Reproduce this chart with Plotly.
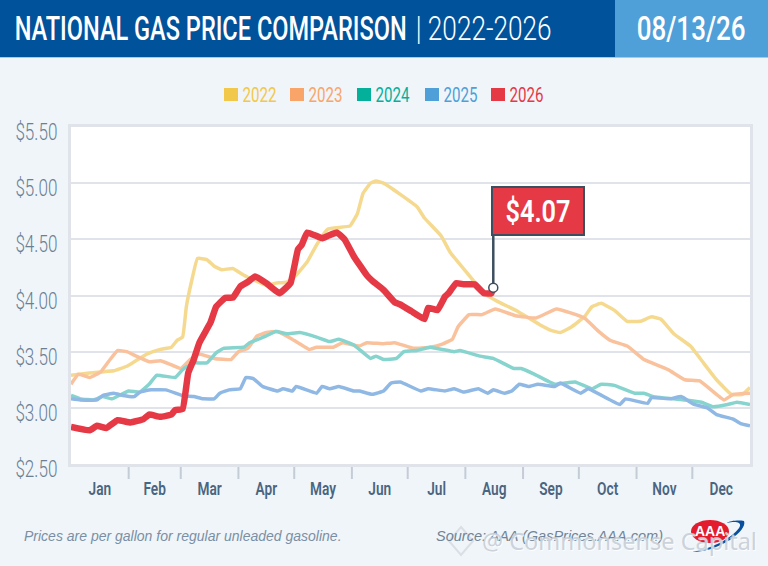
import plotly.graph_objects as go

# day of year / price, one pair of lists per year
days_2022 = [0, 10, 16, 23, 30, 34, 41, 48, 54, 57, 60, 62, 65, 68, 73, 77, 81, 87, 93, 98, 105, 110, 116, 121, 127, 132, 138, 150, 154, 157, 161, 164, 168, 177, 186, 190, 199, 204, 213, 222, 229, 240, 252, 258, 263, 269, 276, 280, 285, 292, 299, 306, 312, 317, 324, 333, 340, 347, 355, 361, 365]
vals_2022 = [3.29, 3.31, 3.32, 3.33, 3.37, 3.41, 3.48, 3.52, 3.54, 3.60, 3.63, 3.90, 4.14, 4.33, 4.32, 4.26, 4.23, 4.24, 4.18, 4.14, 4.09, 4.11, 4.12, 4.18, 4.30, 4.45, 4.59, 4.62, 4.73, 4.91, 5.00, 5.02, 5.00, 4.90, 4.79, 4.69, 4.53, 4.38, 4.20, 4.02, 3.95, 3.86, 3.74, 3.69, 3.67, 3.72, 3.81, 3.90, 3.93, 3.87, 3.77, 3.77, 3.81, 3.79, 3.66, 3.55, 3.40, 3.25, 3.12, 3.12, 3.18]

days_2023 = [0, 4, 10, 16, 21, 25, 30, 35, 42, 48, 53, 59, 64, 69, 77, 86, 90, 95, 100, 105, 111, 118, 128, 132, 141, 146, 155, 159, 168, 174, 184, 193, 200, 205, 208, 214, 221, 228, 239, 250, 261, 276, 283, 290, 299, 308, 321, 330, 338, 351, 356, 365]
vals_2023 = [3.21, 3.30, 3.27, 3.32, 3.43, 3.51, 3.50, 3.46, 3.41, 3.42, 3.39, 3.35, 3.43, 3.48, 3.44, 3.43, 3.50, 3.53, 3.64, 3.67, 3.68, 3.62, 3.52, 3.54, 3.54, 3.58, 3.55, 3.58, 3.57, 3.58, 3.53, 3.54, 3.57, 3.61, 3.72, 3.83, 3.83, 3.88, 3.82, 3.80, 3.88, 3.80, 3.69, 3.60, 3.55, 3.43, 3.34, 3.25, 3.24, 3.07, 3.12, 3.13]

days_2024 = [0, 5, 12, 17, 22, 31, 37, 42, 46, 56, 60, 66, 73, 78, 82, 93, 96, 105, 110, 116, 123, 132, 139, 144, 152, 161, 164, 168, 175, 179, 186, 193, 206, 209, 220, 227, 238, 242, 249, 260, 271, 280, 285, 292, 303, 308, 313, 330, 339, 345, 353, 358, 365]
vals_2024 = [3.11, 3.08, 3.07, 3.10, 3.08, 3.15, 3.14, 3.21, 3.29, 3.27, 3.34, 3.40, 3.40, 3.49, 3.53, 3.54, 3.58, 3.64, 3.68, 3.66, 3.67, 3.63, 3.59, 3.61, 3.56, 3.44, 3.46, 3.43, 3.44, 3.50, 3.51, 3.54, 3.50, 3.51, 3.46, 3.44, 3.35, 3.35, 3.30, 3.21, 3.23, 3.17, 3.21, 3.20, 3.13, 3.13, 3.10, 3.07, 3.05, 3.01, 3.03, 3.05, 3.03]

days_2025 = [0, 5, 14, 17, 23, 28, 34, 37, 43, 51, 60, 66, 71, 77, 80, 85, 91, 94, 98, 103, 111, 114, 119, 121, 132, 135, 139, 144, 152, 155, 162, 168, 172, 177, 188, 192, 201, 206, 211, 219, 224, 227, 233, 237, 241, 246, 251, 260, 263, 274, 278, 295, 298, 310, 312, 322, 328, 335, 342, 347, 356, 360, 365]
vals_2025 = [3.08, 3.07, 3.07, 3.11, 3.13, 3.11, 3.10, 3.14, 3.16, 3.16, 3.11, 3.10, 3.08, 3.08, 3.13, 3.16, 3.17, 3.27, 3.26, 3.19, 3.15, 3.17, 3.15, 3.19, 3.13, 3.19, 3.17, 3.19, 3.15, 3.15, 3.12, 3.15, 3.22, 3.23, 3.15, 3.17, 3.15, 3.17, 3.14, 3.17, 3.13, 3.16, 3.13, 3.15, 3.21, 3.19, 3.21, 3.19, 3.22, 3.13, 3.17, 3.03, 3.08, 3.04, 3.09, 3.08, 3.10, 3.03, 3.00, 2.94, 2.90, 2.86, 2.84]

days_2026 = [0, 10, 14, 19, 25, 32, 39, 42, 48, 54, 56, 60, 63, 66, 69, 75, 78, 83, 87, 91, 95, 99, 105, 112, 118, 122, 124, 127, 135, 138, 143, 147, 152, 159, 162, 168, 174, 177, 183, 190, 192, 197, 201, 203, 207, 211, 217, 222, 226, 227]
vals_2026 = [2.83, 2.80, 2.84, 2.82, 2.89, 2.87, 2.90, 2.94, 2.92, 2.94, 2.98, 2.99, 3.31, 3.43, 3.58, 3.76, 3.90, 3.98, 3.98, 4.08, 4.12, 4.17, 4.11, 4.02, 4.11, 4.41, 4.45, 4.56, 4.51, 4.53, 4.56, 4.50, 4.35, 4.18, 4.13, 4.05, 3.94, 3.92, 3.86, 3.79, 3.89, 3.87, 3.99, 4.02, 4.11, 4.10, 4.10, 4.02, 4.02, 4.07]

months = ["Jan", "Feb", "Mar", "Apr", "May", "Jun", "Jul", "Aug", "Sep", "Oct", "Nov", "Dec"]
month_edges = [0, 31, 59, 90, 120, 151, 181, 212, 243, 273, 304, 334, 365]
price_ticks = [2.5, 3.0, 3.5, 4.0, 4.5, 5.0, 5.5]
latest_price = 4.07

FONT = "Roboto"
W, H = 768, 566
# plot area in page pixels
LEFT, RIGHT, TOP, BOTTOM = 71, 750, 127, 464

legend_years = ["2022", "2023", "2024", "2025", "2026"]
legend_colors = ["#f2c84b", "#f9a56a", "#05b09a", "#4f9fd9", "#e63946"]
line_colors = ["#f5d98f", "#f9c29c", "#86d4cd", "#8fb8e4", "#e63946"]
legend_x = [224, 290, 357, 425, 491]

fig = go.Figure()

series = [(days_2022, vals_2022), (days_2023, vals_2023), (days_2024, vals_2024), (days_2025, vals_2025)]
for (d, v), name, col in zip(series, legend_years, line_colors):
    fig.add_trace(go.Scatter(x=d, y=v, name=name, mode="lines", line=dict(color=col, width=3.5, shape="spline", smoothing=0.3)))

# flag pole goes under the 2026 line
fig.add_trace(go.Scatter(x=[days_2026[-1], days_2026[-1]], y=[latest_price, 4.97], mode="lines",
                         line=dict(color="#3d4f5f", width=2.5)))
fig.add_trace(go.Scatter(x=days_2026, y=vals_2026, name="2026", mode="lines",
                         line=dict(color="#e63946", width=6.5, shape="spline", smoothing=0.3)))
fig.add_trace(go.Scatter(x=[days_2026[-1]], y=[latest_price], mode="markers",
                         marker=dict(size=9, color="white", line=dict(color="#3d4f5f", width=1.5))))


# paper coordinates are relative to the plot area, so convert from page pixels
def px(x):
    return (x - LEFT) / (RIGHT - LEFT)


def py(y):
    return (BOTTOM - y) / (BOTTOM - TOP)


shapes = [
    dict(type="rect", xref="paper", yref="paper", x0=px(0), x1=px(615), y0=py(57), y1=py(0), fillcolor="#00529b", line_width=0, layer="below"),
    dict(type="rect", xref="paper", yref="paper", x0=px(615), x1=px(W), y0=py(57), y1=py(0), fillcolor="#4f9fd9", line_width=0, layer="below"),
    dict(type="rect", xref="paper", yref="paper", x0=px(0), x1=px(W), y0=py(58), y1=py(57), fillcolor="#a9c8e6", line_width=0, layer="below"),
]
annotations = [
    dict(text="NATIONAL GAS PRICE COMPARISON", x=px(210), y=py(29),
         font=dict(family=FONT, size=33, weight=500, color="white")),
    dict(text="| 2022-2026", x=px(484), y=py(29),
         font=dict(family=FONT, size=33, weight=300, color="white")),
    dict(text="08/13/26", x=px(691), y=py(29), font=dict(family=FONT, size=33, weight=500, color="white")),
    dict(text="Prices are per gallon for regular unleaded gasoline.", x=px(22), y=py(536), xanchor="left",
         font=dict(family="Liberation Sans", size=14, style="italic", color="#7a8fa3")),
    dict(text="Source: AAA (GasPrices.AAA.com)", x=px(434), y=py(536), xanchor="left",
         font=dict(family="Liberation Sans", size=14.5, style="italic", color="#6f8496")),
    dict(text="<b>AAA</b>", x=px(710), y=py(531), font=dict(family="Liberation Sans", size=14, color="white")),
    dict(text="@ Commonsense Capital", x=px(480), y=py(541), xanchor="left",
         font=dict(family="Noto Sans", size=23.5, color="rgba(198,205,213,0.9)", shadow="1px 1px 1px white")),
]

for year, col, x in zip(legend_years, legend_colors, legend_x):
    shapes.append(dict(type="rect", xref="paper", yref="paper", x0=px(x), x1=px(x + 14), y0=py(101), y1=py(88),
                       fillcolor=col, line_width=0))
    annotations.append(dict(text=year, x=px(x + 35), y=py(95),
                            font=dict(family=FONT, size=20, color=col)))

# month separators sit a little below the plot, not touching the axis
for edge in month_edges[1:-1]:
    shapes.append(dict(type="line", xref="x", yref="paper", x0=edge, x1=edge, y0=py(467), y1=py(479),
                       line=dict(color="#c4ccd6", width=2)))

# AAA logo and watermark diamond, rough
shapes.append(dict(type="circle", xref="paper", yref="paper", x0=px(691), x1=px(729), y0=py(543), y1=py(520),
                   fillcolor="#e31c2d", line_width=0))
shapes.append(dict(type="path", xref="paper", yref="paper",
                   path=f"M {px(692)} {py(552)} C {px(720)} {py(552)} {px(748)} {py(530)} {px(744)} {py(521)} "
                        f"C {px(738)} {py(520)} {px(729)} {py(521)} {px(727)} {py(523)} "
                        f"C {px(735)} {py(521)} {px(741)} {py(522)} {px(740)} {py(526)} "
                        f"C {px(736)} {py(536)} {px(712)} {py(549)} {px(692)} {py(552)} Z",
                   fillcolor="#0a4f9e", line_width=0))
shapes.append(dict(type="path", xref="paper", yref="paper",
                   path=f"M {px(461)} {py(527)} L {px(473)} {py(541)} L {px(461)} {py(555)} L {px(449)} {py(541)} Z",
                   fillcolor="rgba(0,0,0,0)", line=dict(color="rgba(215,220,226,0.9)", width=2)))

# flag label
annotations.append(dict(text="$%.2f" % latest_price, xref="x", yref="y", x=days_2026[-1] - 1, y=4.755,
                        xanchor="left", showarrow=False, width=90, height=46, bgcolor="#e63946",
                        bordercolor="#3d4f5f", borderwidth=2, borderpad=0,
                        font=dict(family=FONT, size=32, weight=600, color="white")))
# auto anchors push far-off paper positions around, so pin them
for a in annotations:
    a.setdefault("xref", "paper")
    a.setdefault("yref", "paper")
    a.setdefault("showarrow", False)
    a.setdefault("xanchor", "center")
    a.setdefault("yanchor", "middle")

mids = [(month_edges[i] + month_edges[i + 1]) / 2 for i in range(12)]

fig.update_layout(
    width=W, height=H,
    margin=dict(l=LEFT, r=W - RIGHT, t=TOP, b=H - BOTTOM, autoexpand=False),
    paper_bgcolor="#f0f5fa",
    plot_bgcolor="white",
    showlegend=False,
    shapes=shapes,
    annotations=annotations,
    xaxis=dict(range=[0, 365], tickmode="array", tickvals=mids, ticktext=months, showgrid=False, zeroline=False,
               ticks="outside", ticklen=5, tickcolor="rgba(0,0,0,0)",
               tickfont=dict(family=FONT, size=19, weight=600, color="#4a657f"),
               showline=True, mirror=True, linecolor="#e0e3ea", linewidth=3),
    yaxis=dict(range=[2.5, 5.5], tickmode="array", tickvals=price_ticks, ticktext=["$%.2f" % t for t in price_ticks],
               showgrid=True, gridcolor="#e0e3ea", gridwidth=1.5, zeroline=False,
               ticks="outside", ticklen=6, tickcolor="rgba(0,0,0,0)", ticklabelshift=5,
               tickfont=dict(family=FONT, size=23, weight=300, color="#6b8092"),
               showline=True, mirror=True, linecolor="#e0e3ea", linewidth=3),
)

# no condensed font is installed, so squeeze the Roboto texts to the reference widths
post_js = """
document.body.style.margin = '0';
var widths = {'NATIONAL GAS PRICE COMPARISON': 392, '| 2022-2026': 136, '08/13/26': 109, '$4.07': 65,
              '2022': 34, '2023': 34, '2024': 34, '2025': 34, '2026': 34};
document.querySelectorAll('text').forEach(function (t) {
    if (getComputedStyle(t).fontFamily.indexOf('Roboto') < 0) return;
    var len = t.getComputedTextLength(), s = t.textContent, target = widths[s];
    if (!target) target = s.charAt(0) === '$' ? 42 : len * 0.72;
    t.setAttribute('textLength', target);
    t.setAttribute('lengthAdjust', 'spacingAndGlyphs');
});
"""
fig.write_html("out.html", post_script=post_js, config={"displayModeBar": False})
